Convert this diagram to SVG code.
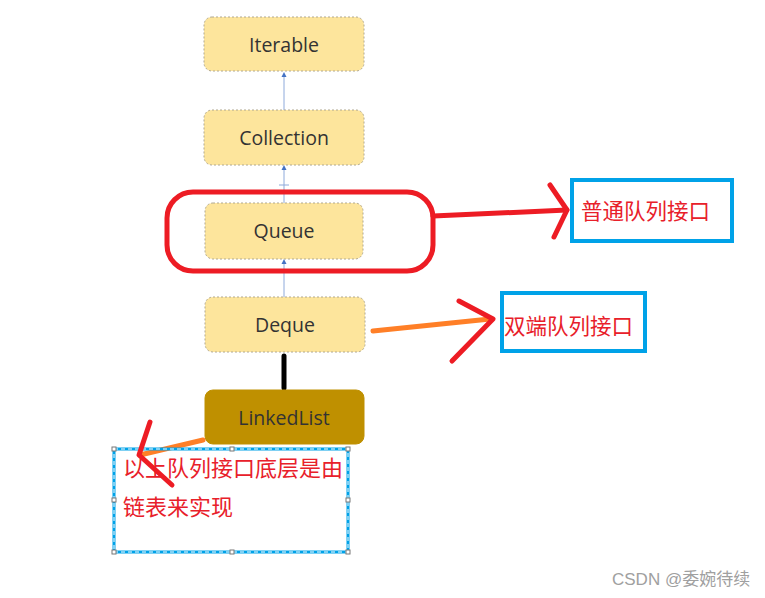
<svg xmlns="http://www.w3.org/2000/svg" width="765" height="598" viewBox="0 0 765 598">
<style>
.node rect{fill:#fde59c;stroke:#b0a890;stroke-width:1;stroke-dasharray:2 2}
.node text{font-family:"Open Sans","Liberation Sans",sans-serif;font-size:19.5px;font-weight:500;fill:#333;text-anchor:middle}
.cn{font-family:"Noto Sans CJK SC",sans-serif;font-size:21.5px;fill:#e8202a}
.blue{fill:none;stroke:#00a2e8;stroke-width:4}
.red{fill:none;stroke:#ed1c24;stroke-width:5;stroke-linecap:round;stroke-linejoin:round}
.orange{fill:none;stroke:#ff7f27;stroke-width:5;stroke-linecap:round}
.conn{stroke:#8eaadb;stroke-width:1;fill:none}
</style>
<rect width="765" height="598" fill="#fff"/>
<g id="connectors">
<line class="conn" x1="284" y1="110" x2="284" y2="74"/>
<path d="M281.5,77 L284,72 L286.5,77 Z" fill="#4472c4"/>
<line class="conn" x1="284" y1="203" x2="284" y2="167"/>
<path d="M281.5,170 L284,165 L286.5,170 Z" fill="#4472c4"/>
<line class="conn" x1="279" y1="185" x2="289" y2="185"/>
<line class="conn" x1="284" y1="297" x2="284" y2="261"/>
<path d="M281.5,264 L284,259 L286.5,264 Z" fill="#4472c4"/>
<line x1="284" y1="356" x2="284" y2="388" stroke="#000" stroke-width="5" stroke-linecap="round"/>
</g>
<g id="iterable" class="node"><rect x="204" y="17" width="160" height="54" rx="8"/><text x="284" y="52">Iterable</text></g>
<g id="collection" class="node"><rect x="204" y="110" width="160" height="55" rx="8"/><text x="284" y="145">Collection</text></g>
<g id="queue" class="node"><rect x="205" y="203" width="158" height="56" rx="8"/><text x="284" y="238">Queue</text></g>
<g id="deque" class="node"><rect x="205" y="297" width="160" height="55" rx="8"/><text x="285" y="332">Deque</text></g>
<g id="linkedlist" class="node"><rect x="205" y="390" width="159" height="54" rx="8" style="fill:#bf9000;stroke:#bf9000;stroke-dasharray:none"/><text x="284" y="425">LinkedList</text></g>
<g id="queue-highlight">
<rect class="red" x="167" y="192" width="266" height="79" rx="26"/>
<path class="red" d="M433,216 L567,210"/>
<path class="red" d="M550,185 L567,210 L554,237"/>
</g>
<g id="label-queue">
<rect class="blue" x="572" y="180" width="160" height="61"/>
<text class="cn" x="581" y="219">普通队列接口</text>
</g>
<g id="deque-arrow">
<path class="orange" d="M373,331 L490,319"/>
<path class="red" d="M459,301 L493,319 L452,361"/>
</g>
<g id="label-deque">
<rect class="blue" x="502" y="293" width="143" height="58"/>
<text class="cn" x="504" y="334">双端队列接口</text>
</g>
<g id="linkedlist-note">
<path class="orange" d="M203,440 L140,455"/>
<rect x="114" y="449" width="234" height="103" fill="none" stroke="#00a2e8" stroke-width="3"/>
<rect x="114" y="449" width="234" height="103" fill="none" stroke="#fff" stroke-width="1" stroke-dasharray="4 3"/>
<g fill="#fff" stroke="#777" stroke-width="1">
<rect x="112" y="447" width="4" height="4"/><rect x="230" y="447" width="4" height="4"/><rect x="346" y="447" width="4" height="4"/>
<rect x="112" y="498" width="4" height="4"/><rect x="346" y="498" width="4" height="4"/>
<rect x="112" y="550" width="4" height="4"/><rect x="230" y="550" width="4" height="4"/><rect x="346" y="550" width="4" height="4"/>
</g>
<text class="cn" x="123" y="476" style="font-size:22px">以上队列接口底层是由</text>
<text class="cn" x="123" y="515" style="font-size:22px">链表来实现</text>
<path class="red" d="M150,422 L139,455 L172,485"/>
</g>
<text x="612" y="585" font-family="'Liberation Sans','Noto Sans CJK SC',sans-serif" font-size="17" fill="#a0a0a0">CSDN @委婉待续</text>
</svg>
